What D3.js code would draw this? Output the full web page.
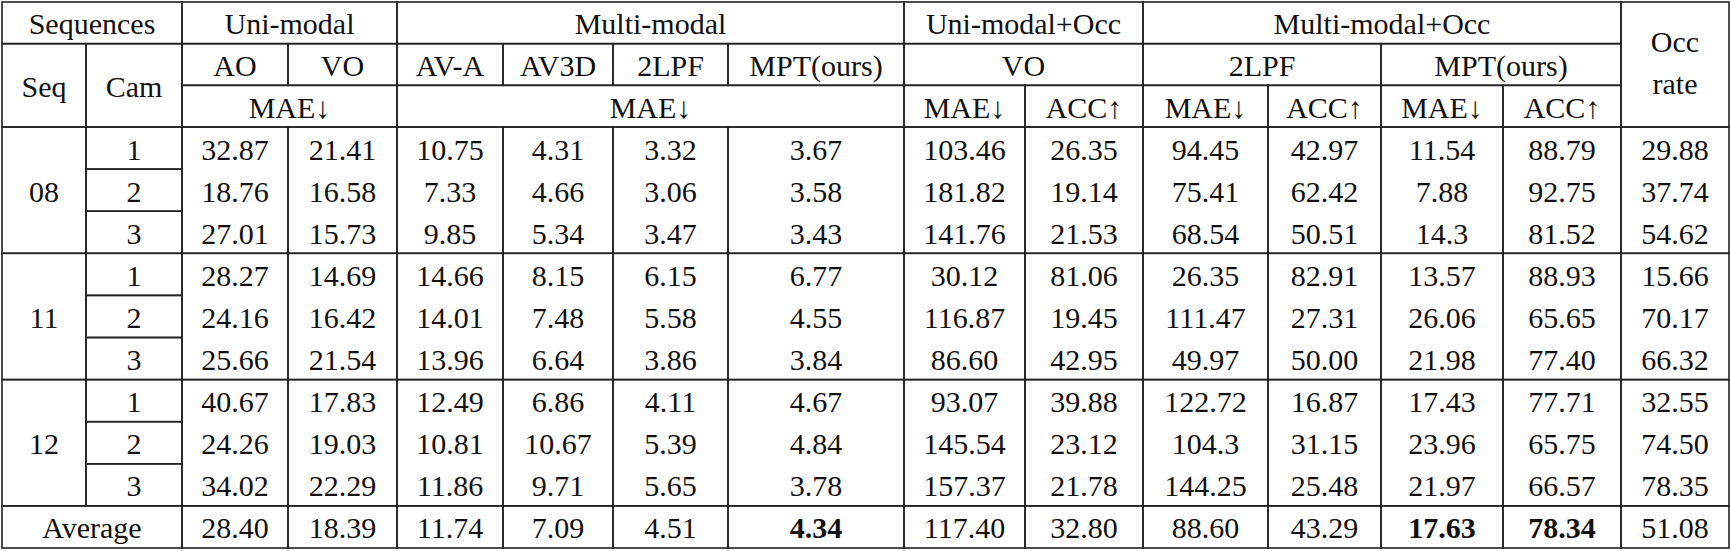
<!DOCTYPE html>
<html><head><meta charset="utf-8">
<script src="https://cdn.jsdelivr.net/npm/d3@7"></script>
<style>body{margin:0;background:#fff}</style>
</head><body><svg id="c" width="1731" height="551"></svg>
<script>
const seqs = ["08","11","12"];
const cams = ["1","2","3"];
const AO   = ["32.87","18.76","27.01","28.27","24.16","25.66","40.67","24.26","34.02","28.40"];
const VO   = ["21.41","16.58","15.73","14.69","16.42","21.54","17.83","19.03","22.29","18.39"];
const AVA  = ["10.75","7.33","9.85","14.66","14.01","13.96","12.49","10.81","11.86","11.74"];
const AV3D = ["4.31","4.66","5.34","8.15","7.48","6.64","6.86","10.67","9.71","7.09"];
const LPF  = ["3.32","3.06","3.47","6.15","5.58","3.86","4.11","5.39","5.65","4.51"];
const MPT  = ["3.67","3.58","3.43","6.77","4.55","3.84","4.67","4.84","3.78","4.34"];
const VOoMAE = ["103.46","181.82","141.76","30.12","116.87","86.60","93.07","145.54","157.37","117.40"];
const VOoACC = ["26.35","19.14","21.53","81.06","19.45","42.95","39.88","23.12","21.78","32.80"];
const LPFoMAE = ["94.45","75.41","68.54","26.35","111.47","49.97","122.72","104.3","144.25","88.60"];
const LPFoACC = ["42.97","62.42","50.51","82.91","27.31","50.00","16.87","31.15","25.48","43.29"];
const MPToMAE = ["11.54","7.88","14.3","13.57","26.06","21.98","17.43","23.96","21.97","17.63"];
const MPToACC = ["88.79","92.75","81.52","88.93","65.65","77.40","77.71","65.75","66.57","78.34"];
const occRate = ["29.88","37.74","54.62","15.66","70.17","66.32","32.55","74.50","78.35","51.08"];
const boldCells = [[5,9],[10,9],[11,9]];
const header1 = [["Sequences",0,2],["Uni-modal",2,4],["Multi-modal",4,8],["Uni-modal+Occ",8,10],["Multi-modal+Occ",10,14]];
const header2 = [["AO",2,3],["VO",3,4],["AV-A",4,5],["AV3D",5,6],["2LPF",6,7],["MPT(ours)",7,8],["VO",8,10],["2LPF",10,12],["MPT(ours)",12,14]];
const header3 = [["MAE↓",2,4],["MAE↓",4,8],["MAE↓",8,9],["ACC↑",9,10],["MAE↓",10,11],["ACC↑",11,12],["MAE↓",12,13],["ACC↑",13,14]];

const FONT = "'Liberation Serif', Tinos, 'Times New Roman', Times, 'DejaVu Serif', serif";
const cols = [AO,VO,AVA,AV3D,LPF,MPT,VOoMAE,VOoACC,LPFoMAE,LPFoACC,MPToMAE,MPToACC,occRate];
const xEdges = [2,86,182,288,397,503,613,728,904,1025,1143,1268,1381,1503,1621,1729];
const x = i => xEdges[i];
const y = d3.scaleLinear().domain([0,3]).range([2,127]);
const yd = d3.scaleLinear().domain([0,10]).range([127,548]);
const svg = d3.select("#c");
const boxes = [], texts = [];
function cell(t,c0,c1,y0,y1,bold,nobox){
  if(!nobox) boxes.push({x0:x(c0),x1:x(c1),y0,y1});
  if(t!==null) texts.push({t,x:(x(c0)+x(c1))/2,y:(y0+y1)/2,bold});
}
header1.forEach(h=>cell(h[0],h[1],h[2],y(0),y(1)));
cell(null,14,15,y(0),y(3));
texts.push({t:"Occ",x:(x(14)+x(15))/2,y:y(1)-3});
texts.push({t:"rate",x:(x(14)+x(15))/2,y:y(2)-3});
cell("Seq",0,1,y(1),y(3)); cell("Cam",1,2,y(1),y(3));
header2.forEach(h=>cell(h[0],h[1],h[2],y(1),y(2)));
header3.forEach(h=>cell(h[0],h[1],h[2],y(2),y(3)));
seqs.forEach((s,i)=>{
  cell(s,0,1,yd(i*3),yd(i*3+3));
  cams.forEach((c,j)=>cell(c,1,2,yd(i*3+j),yd(i*3+j+1)));
});
cell("Average",0,2,yd(9),yd(10));
cols.forEach((col,ci)=>{
  [0,3,6].forEach(g=>cell(null,ci+2,ci+3,yd(g),yd(g+3)));
  cell(null,ci+2,ci+3,yd(9),yd(10));
  col.forEach((v,ri)=>{
    const b = boldCells.some(p=>p[0]===ci && p[1]===ri);
    cell(v,ci+2,ci+3,yd(ri),yd(ri+1),b,true);
  });
});
svg.selectAll("rect").data(boxes).join("rect")
  .attr("x",d=>d.x0).attr("y",d=>d.y0).attr("width",d=>d.x1-d.x0).attr("height",d=>d.y1-d.y0)
  .attr("fill","none").attr("stroke","#222").attr("stroke-width",1.6);
svg.selectAll("text").data(texts).join("text")
  .attr("x",d=>d.x).attr("y",d=>d.y+1).attr("text-anchor","middle")
  .attr("dominant-baseline","central").attr("font-size",30).attr("font-family",FONT).attr("fill","#111")
  .attr("font-weight",d=>d.bold?"bold":"normal").text(d=>d.t);
</script></body></html>
